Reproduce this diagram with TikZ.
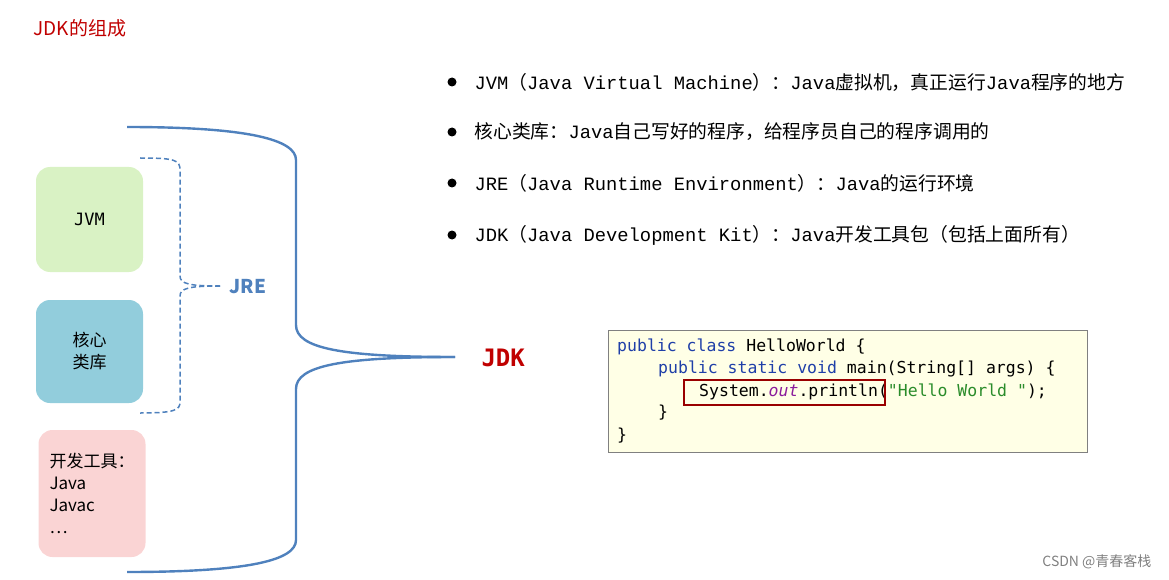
\documentclass[tikz,border=0pt]{standalone}
\usepackage{fontspec}
\setmainfont{Noto Sans CJK SC}
\newfontfamily\codefont{DejaVu Sans Mono}
\newfontfamily\latmono{Liberation Mono}
\newcommand{\lm}[1]{{\latmono #1}}
\usetikzlibrary{positioning}
\definecolor{braceblue}{HTML}{4F81BD}
\definecolor{titlered}{HTML}{C00000}
\definecolor{kwblue}{HTML}{1F3FA8}
\definecolor{strgreen}{HTML}{2A8C2A}
\definecolor{outpurple}{HTML}{8B1C9C}
\tikzset{
  part/.style={rounded corners=14pt, minimum width=107pt, align=center, font=\fontsize{17}{22}\selectfont},
  item/.style={anchor=west, font=\fontsize{18.8}{20}\selectfont},
  codeline/.style={anchor=west, font=\codefont\fontsize{16.5}{20}\selectfont, inner sep=0pt},
  jrebrace/.style={braceblue, line width=1.5pt, dash pattern=on 5pt off 3pt},
  jdkbrace/.style={braceblue, line width=2.4pt}
}
\begin{document}
\begin{tikzpicture}[x=1pt,y=-1pt]
\useasboundingbox (0,0) rectangle (1169,580);

\node[anchor=west, text=titlered, font=\fontsize{19}{22}\selectfont] (title) at (30,28) {JDK的组成};

%parts
\node[part, fill={rgb,255:red,217;green,242;blue,196}, minimum height=105pt] (jvm) at (89.5,219.5) {\codefont JVM};
\node[part, fill={rgb,255:red,146;green,205;blue,220}, minimum height=103pt] (lib) at (89.5,351.5) {核心\\类库};
\node[part, fill={rgb,255:red,250;green,212;blue,212}, minimum height=127pt, align=left] (tools) at (92,493.5) {开发工具：\\Java\\Javac\\…};

%JRE brace
\coordinate (jretip) at (220,286);
\draw[jrebrace] (140,158) .. controls (175,158) and (180,160) .. (180,170) -- (180,276)
  .. controls (180,284) and (190,286) .. (jretip);
\draw[jrebrace] (jretip) .. controls (190,286) and (180,288) .. (180,296) -- (180,402)
  .. controls (180,410) and (175,413) .. (140,413);
\node[anchor=west, text=braceblue, font=\bfseries\fontsize{19}{22}\selectfont] (jre) at (226,287) {JRE};

%JDK brace
\coordinate (jdktip) at (455,357);
\draw[jdkbrace] (127,127) .. controls (250,127) and (296,140) .. (296,160) -- (296,325)
  .. controls (296,348) and (340,357) .. (jdktip);
\draw[jdkbrace] (jdktip) .. controls (340,357) and (296,366) .. (296,389) -- (296,540)
  .. controls (296,560) and (250,572) .. (127,572);
\node[anchor=west, text=titlered, font=\codefont\bfseries\fontsize{24}{28}\selectfont] (jdk) at (478,358) {JDK};

%bullets
\foreach \y/\t in {82/\lm{JVM}（\lm{Java Virtual Machine}）：\lm{Java}虚拟机，真正运行\lm{Java}程序的地方,
  132/核心类库：\lm{Java}自己写好的程序，给程序员自己的程序调用的,
  183/\lm{JRE}（\lm{Java Runtime Environment}）：\lm{Java}的运行环境,
  235/\lm{JDK}（\lm{Java Development Kit}）：\lm{Java}开发工具包（包括上面所有）}
  \node[item] at (471,\y) {\t};
\foreach \y in {82,132,183,235}
  \fill (452,\y) circle (4.5pt);

%code
\draw[gray, fill={rgb,255:red,255;green,255;blue,230}] (608,330) rectangle (1087,452);
\node[codeline] (c1) at (617,347) {\textcolor{kwblue}{public class} HelloWorld \{};
\node[codeline] (c2) at (658,369) {\textcolor{kwblue}{public static void} main(String[] args) \{};
\node[codeline] (c3) at (699,392) {System.\textcolor{outpurple}{\itshape out}.println(\textcolor{strgreen}{"Hello World "});};
\node[codeline] (c4) at (658,413) {\}};
\node[codeline] (c5) at (617,436) {\}};
\draw[red!60!black, line width=1.8pt] (684,380) rectangle (885,405);

\node[anchor=east, text=gray, font=\fontsize{14}{16}\selectfont] (mark) at (1155,562) {CSDN @青春客栈};
\end{tikzpicture}
\end{document}
